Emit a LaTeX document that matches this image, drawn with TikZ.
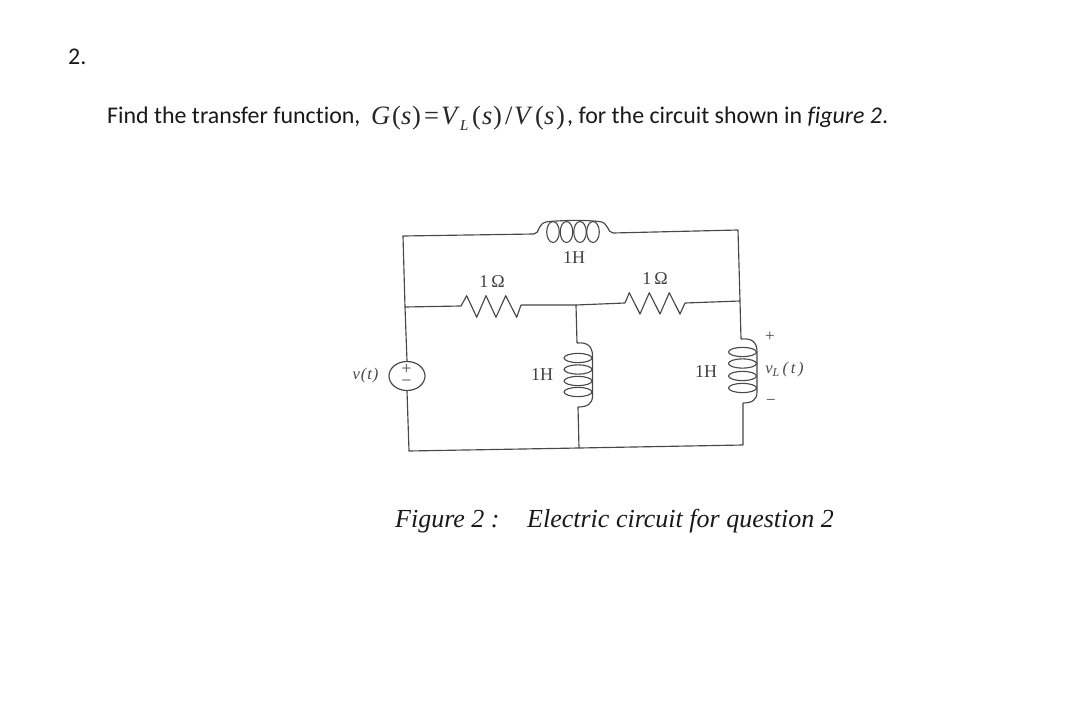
\documentclass[tikz,border=0pt]{standalone}
\usepackage{fontspec}
\setmainfont[RawFeature=-liga;-dlig;-clig]{Carlito}
\newfontfamily\timesf{Liberation Serif}
\usetikzlibrary{shapes.geometric}
\tikzset{
  x=1pt,y=-1pt,
  wire/.style={draw=wiregray,line width=1.15pt,line join=round},
  coilloop/.style={draw=wiregray,line width=1.1pt},
  headtext/.style={anchor=base west,inner sep=0pt,font=\fontsize{23.9}{26}\selectfont,text=black!90},
  mathtext/.style={anchor=base west,inner sep=0pt,font=\timesf\itshape\fontsize{26.5}{28}\selectfont,text=black!85},
  mathup/.style={anchor=base west,inner sep=0pt,font=\timesf\fontsize{26.5}{28}\selectfont,text=black!85},
  captext/.style={anchor=base west,inner sep=0pt,font=\timesf\itshape\fontsize{26}{30}\selectfont,text=black!90},
  circtext/.style={inner sep=0pt,text=wiregray!90!black,font=\timesf\fontsize{18}{20}\selectfont},
  srctext/.style={inner sep=0pt,text=wiregray,font=\timesf\itshape\fontsize{16.5}{18}\selectfont},
  signtext/.style={inner sep=0pt,text=wiregray,font=\timesf\fontsize{17}{17}\selectfont},
  srcsign/.style={inner sep=0pt,align=center,text=wiregray,font=\timesf\fontsize{18}{12}\selectfont},
  srcbody/.style={ellipse,draw=wiregray,line width=1.15pt,minimum width=36pt,minimum height=29pt,inner sep=0pt}
}
\definecolor{wiregray}{HTML}{484848}
\begin{document}
\begin{tikzpicture}
\useasboundingbox (0,0) rectangle (1080,704);
\fill[white] (0,0) rectangle (1080,704);
% heading
\node[headtext] (qn) at (68,64) {2.};
\node[headtext] (find) at (107,123) {Find the transfer function,};
\node[mathtext] (g) at (371,124) {G};
\node[mathup] (p1) at (392,124) {(};
\node[mathtext] (s1) at (401,124) {s};
\node[mathup] (p2) at (412,124) {)};
\node[mathup] (eq) at (424,124) {=};
\node[mathtext] (vl) at (441,124) {V};
\node[inner sep=0pt,anchor=base west,font=\timesf\itshape\fontsize{15}{16}\selectfont,text=black!85] (lsub) at (460,130) {L};
\node[mathup] (p3) at (472,124) {(};
\node[mathtext] (s2) at (482,124) {s};
\node[mathup] (p4) at (493,124) {)};
\node[mathup] (sl) at (505,124) {/};
\node[mathtext] (v2) at (514,124) {V};
\node[mathup] (p6) at (535,124) {(};
\node[mathtext] (s4) at (544,124) {s};
\node[mathup] (p7) at (556,124) {)};
\node[headtext] (rest) at (567,123) {, for the circuit shown in \textit{figure 2}.};
\node[captext] (cap1) at (395,527) {Figure 2 :};
\node[captext] (cap2) at (527,527) {Electric circuit for question 2};
% junctions
\coordinate (tl) at (403,236);
\coordinate (tcl) at (534,234);
\coordinate (tcr) at (613,233);
\coordinate (tr) at (738,230);
\coordinate (ml) at (405,307);
\coordinate (r1a) at (461,306);
\coordinate (r1b) at (521,305);
\coordinate (mm) at (576,305);
\coordinate (r2a) at (625,303);
\coordinate (r2b) at (685,303);
\coordinate (mr) at (740,301);
\coordinate (c2t) at (577,343);
\coordinate (c2b) at (578,407);
\coordinate (c3t) at (741,339);
\coordinate (c3b) at (743,403);
\coordinate (bl) at (409,451);
\coordinate (bm) at (579,448);
\coordinate (br) at (743,445);
\node[srcbody] (src) at (407,376) {};
\node[srcsign] (signs) at (406.5,375.5) {+\\\char"2212};
% wires
\draw[wire] (src.north) -- (ml) -- (tl) -- (tcl);
\draw[wire] (tcr) -- (tr) -- (mr) -- (c3t);
\draw[wire] (src.south) -- (bl) -- (bm) -- (br) -- (c3b);
\draw[wire] (ml) -- (r1a);
\draw[wire] (r1b) -- (mm) -- (r2a);
\draw[wire] (r2b) -- (mr);
\draw[wire] (mm) -- (c2t);
\draw[wire] (c2b) -- (bm);
% resistors
\draw[wire] (r1a) -- (466.7,295.7) -- (476.7,317.3) -- (486,295.7) -- (496,317.3) -- (505.7,295.7) -- (516.7,317.3) -- (r1b);
\draw[wire] (r2a) -- (629.3,292.7) -- (640,314) -- (649.3,292.7) -- (660,314) -- (669.3,292.7) -- (680,314) -- (r2b);
% top inductor
\draw[wire] (tcl) .. controls (540,234) and (537,222) .. (549,221.5) .. controls (570,220) and (585,220) .. (599,221.5) .. controls (609,222) and (607,233) .. (tcr);
\foreach \cx in {553,566.5,580,593} \draw[coilloop] (\cx,232) ellipse [x radius=6.3,y radius=10.5];
% middle inductor
\draw[wire] (c2t) .. controls (587,342) and (592.5,346) .. (592.5,356) -- (592.5,396) .. controls (592.5,404) and (587,407) .. (c2b);
\foreach \cy in {358,369.5,381,392} \draw[coilloop] (578,\cy) ellipse [x radius=14,y radius=4.6];
% right inductor
\draw[wire] (c3t) .. controls (752,338) and (757,342) .. (757,352) -- (757,392) .. controls (757,400) and (752,403) .. (c3b);
\foreach \cy in {352,363.5,376,388} \draw[coilloop] (742.5,\cy) ellipse [x radius=14,y radius=4.6];
% labels
\node[circtext] (l1) at (574,258) {1H};
\node[circtext] (r1l) at (492,282) {1\,Ω};
\node[circtext] (r2l) at (655,279) {1\,Ω};
\node[circtext] (l2) at (542,375) {1H};
\node[circtext] (l3) at (706,372) {1H};
\node[srctext] (vt) at (365.5,376) {v\kern1pt(\kern1pt t\kern1pt)};
\node[srctext] (vlt) at (784.5,370) {v\textsubscript{\fontsize{12}{12}\selectfont L}\,(\,t\,)};
\node[signtext] (pl) at (770,337) {+};
\node[signtext] (mi) at (771,402) {\char"2212};
\end{tikzpicture}
\end{document}
